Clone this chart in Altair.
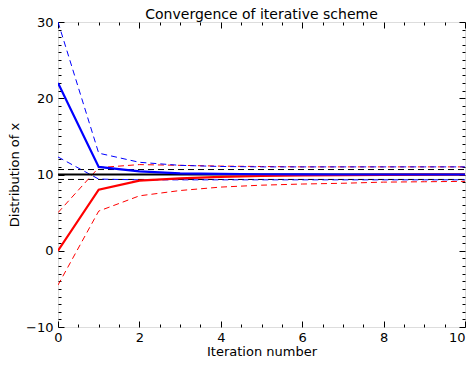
import altair as alt
import pandas as pd

# ---- data ----
iters = [0, 1, 2, 3, 4, 5, 6, 7, 8, 9, 10]
blue_mean = [22.0, 11.0, 10.4, 10.15, 10.07, 10.03, 10.01, 10.0, 10.0, 10.0, 10.0]
blue_hi = [30.0, 12.8, 11.6, 11.2, 11.05, 11.0, 11.0, 11.0, 11.0, 11.0, 11.0]
blue_lo = [12.3, 9.4, 9.3, 9.3, 9.3, 9.3, 9.3, 9.3, 9.3, 9.3, 9.3]
red_mean = [0.0, 8.0, 9.2, 9.5, 9.7, 9.8, 9.88, 9.93, 9.96, 9.98, 10.0]
red_hi = [5.0, 10.9, 11.3, 11.2, 11.1, 11.05, 11.0, 11.0, 11.0, 11.0, 11.0]
red_lo = [-4.5, 5.2, 7.2, 7.9, 8.35, 8.6, 8.75, 8.85, 9.0, 9.05, 9.1]

ref_x = [0, 10]
true_mean = [10.0, 10.0]
true_hi = [10.65, 10.65]
true_lo = [9.35, 9.35]

x_major = [0, 2, 4, 6, 8, 10]
x_minor = [0.5, 1, 1.5, 2.5, 3, 3.5, 4.5, 5, 5.5, 6.5, 7, 7.5, 8.5, 9, 9.5]
y_major = [-10, 0, 10, 20, 30]
y_minor = [-9, -8, -7, -6, -5, -4, -3, -2, -1, 1, 2, 3, 4, 5, 6, 7, 8, 9,
           11, 12, 13, 14, 15, 16, 17, 18, 19, 21, 22, 23, 24, 25, 26, 27, 28, 29]

W, H = 407, 305
FONT = "DejaVu Sans"

xs = alt.Scale(domain=[0, 10], nice=False, zero=False)
ys = alt.Scale(domain=[-10, 30], nice=False, zero=False)


def frame(xv, yv):
    return pd.DataFrame({"x": xv, "y": yv})


# draw order: black, red, blue (blue on top)
series = [
    (ref_x, true_hi, "black", 1, [6, 4]),
    (ref_x, true_lo, "black", 1, [6, 4]),
    (iters, red_hi, "#ff0000", 1, [6, 4]),
    (iters, red_lo, "#ff0000", 1, [6, 4]),
    (iters, blue_hi, "#0000ff", 1, [6, 4]),
    (iters, blue_lo, "#0000ff", 1, [6, 4]),
    (ref_x, true_mean, "black", 2, None),
    (iters, red_mean, "#ff0000", 2.2, None),
    (iters, blue_mean, "#0000ff", 2.2, None),
]

main_x_axis = alt.Axis(orient="bottom", values=x_major, ticks=False, domain=False,
                       grid=False, labelPadding=4, labelFontSize=13, labelFont=FONT,
                       labelColor="black",
                       labelAlign={"expr": "datum.value == 10 ? 'right' : 'center'"},
                       title="Iteration number", titleFontSize=13,
                       titleFont=FONT, titleFontWeight="normal", titleColor="black",
                       titlePadding=1, format="d")
main_y_axis = alt.Axis(orient="left", values=y_major, ticks=False, domain=False,
                       grid=False, labelPadding=5, labelFontSize=13, labelFont=FONT,
                       labelColor="black", title="Distribution of x", titleFontSize=13,
                       titleFont=FONT, titleFontWeight="normal", titleColor="black",
                       titlePadding=4, format="d")

layers = []
for i, (xv, yv, col, sw, dash) in enumerate(series):
    kw = dict(color=col, strokeWidth=sw, clip=True)
    if dash:
        kw["strokeDash"] = dash
    if i == 0:
        xa, ya = main_x_axis, main_y_axis
    else:
        xa, ya = None, None
    layers.append(
        alt.Chart(frame(xv, yv)).mark_line(**kw).encode(
            x=alt.X("x:Q", scale=xs, axis=xa),
            y=alt.Y("y:Q", scale=ys, axis=ya),
        )
    )


def tick_layer(xorient, xoff, xvals, yorient, yoff, yvals, size):
    xa = alt.Axis(orient=xorient, offset=xoff, values=xvals, labels=False, title="",
                  domain=False, grid=False, ticks=True, tickSize=size,
                  tickColor="black", tickWidth=1)
    ya = alt.Axis(orient=yorient, offset=yoff, values=yvals, labels=False, title="",
                  domain=False, grid=False, ticks=True, tickSize=size,
                  tickColor="black", tickWidth=1)
    return alt.Chart(frame(iters, blue_mean)).mark_line(strokeOpacity=0).encode(
        x=alt.X("x:Q", scale=xs, axis=xa),
        y=alt.Y("y:Q", scale=ys, axis=ya),
    )


# inward ticks on all four sides
layers.append(tick_layer("top", -H, x_major, "right", -W, y_major, 6))
layers.append(tick_layer("bottom", -H, x_major, "left", -W, y_major, 6))
layers.append(tick_layer("top", -H, x_minor, "right", -W, y_minor, 3))
layers.append(tick_layer("bottom", -H, x_minor, "left", -W, y_minor, 3))

chart = (
    alt.layer(*layers)
    .resolve_axis(x="independent", y="independent")
    .properties(
        width=W,
        height=H,
        padding={"left": 50, "top": 14, "right": 1, "bottom": 32},
        autosize=alt.AutoSizeParams(type="none"),
        title=alt.Title("Convergence of iterative scheme", fontSize=14,
                        fontWeight="normal", font=FONT, color="black", offset=0,
                        dy=5.5),
    )
    .configure_view(stroke="black", strokeWidth=1)
    .configure(background="white")
)

chart.save("out.html", embed_options={"renderer": "svg", "actions": False})
